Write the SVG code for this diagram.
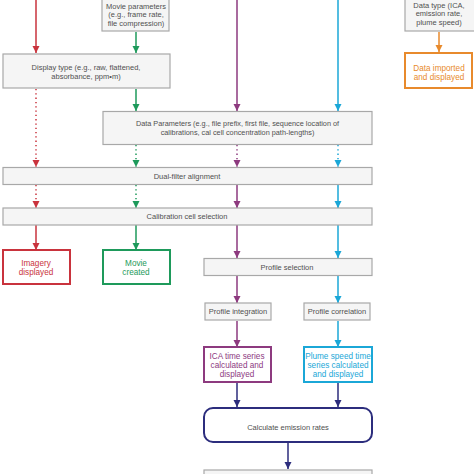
<svg xmlns="http://www.w3.org/2000/svg" width="474" height="474" viewBox="0 0 474 474">
<style>
text{font-family:"Liberation Sans",Arial,sans-serif;font-size:7.5px;fill:#505050;text-anchor:middle}
.k{font-size:8.2px}
.g{fill:#f5f5f5;stroke:#a8a8a8;stroke-width:1.2}
.c{fill:#fff;stroke-width:2}
.dot{stroke-dasharray:1.3 3;stroke-width:1.5}
line{stroke-width:1.5;fill:none}
.red{stroke:#c9333d}.grn{stroke:#1e9a5b}.pur{stroke:#8d3a7f}.cyn{stroke:#1ba7d7}.org{stroke:#e88a2c}.nav{stroke:#2c2d7d}
</style>
<defs>
<marker id="mr" viewBox="0 0 10 10" refX="10" refY="5" markerWidth="4.8" markerHeight="4.8" orient="auto" markerUnits="strokeWidth"><path d="M0,0L10,5L0,10z" fill="#c9333d"/></marker>
<marker id="mg" viewBox="0 0 10 10" refX="10" refY="5" markerWidth="4.8" markerHeight="4.8" orient="auto" markerUnits="strokeWidth"><path d="M0,0L10,5L0,10z" fill="#1e9a5b"/></marker>
<marker id="mp" viewBox="0 0 10 10" refX="10" refY="5" markerWidth="4.8" markerHeight="4.8" orient="auto" markerUnits="strokeWidth"><path d="M0,0L10,5L0,10z" fill="#8d3a7f"/></marker>
<marker id="mc" viewBox="0 0 10 10" refX="10" refY="5" markerWidth="4.8" markerHeight="4.8" orient="auto" markerUnits="strokeWidth"><path d="M0,0L10,5L0,10z" fill="#1ba7d7"/></marker>
<marker id="mo" viewBox="0 0 10 10" refX="10" refY="5" markerWidth="4.8" markerHeight="4.8" orient="auto" markerUnits="strokeWidth"><path d="M0,0L10,5L0,10z" fill="#e88a2c"/></marker>
<marker id="mn" viewBox="0 0 10 10" refX="10" refY="5" markerWidth="4.8" markerHeight="4.8" orient="auto" markerUnits="strokeWidth"><path d="M0,0L10,5L0,10z" fill="#2c2d7d"/></marker>
</defs>
<rect width="474" height="474" fill="#fff"/>
<g id="connectors">
<line class="red" x1="36" y1="0" x2="36" y2="53" marker-end="url(#mr)"/>
<line class="red dot" x1="36" y1="89" x2="36" y2="167" marker-end="url(#mr)"/>
<line class="red dot" x1="36" y1="185" x2="36" y2="208" marker-end="url(#mr)"/>
<line class="red" x1="36" y1="225" x2="36" y2="250" marker-end="url(#mr)"/>
<line class="grn" x1="136" y1="32" x2="136" y2="53" marker-end="url(#mg)"/>
<line class="grn" x1="136" y1="89" x2="136" y2="111" marker-end="url(#mg)"/>
<line class="grn dot" x1="136" y1="145" x2="136" y2="167" marker-end="url(#mg)"/>
<line class="grn dot" x1="136" y1="185" x2="136" y2="208" marker-end="url(#mg)"/>
<line class="grn" x1="136" y1="225" x2="136" y2="250" marker-end="url(#mg)"/>
<line class="pur" x1="237" y1="0" x2="237" y2="111" marker-end="url(#mp)"/>
<line class="pur dot" x1="237" y1="145" x2="237" y2="167" marker-end="url(#mp)"/>
<line class="pur" x1="237" y1="185" x2="237" y2="208" marker-end="url(#mp)"/>
<line class="pur" x1="237" y1="225" x2="237" y2="258" marker-end="url(#mp)"/>
<line class="pur" x1="237" y1="276" x2="237" y2="303" marker-end="url(#mp)"/>
<line class="pur" x1="237" y1="321" x2="237" y2="347" marker-end="url(#mp)"/>
<line class="cyn" x1="338" y1="0" x2="338" y2="111" marker-end="url(#mc)"/>
<line class="cyn dot" x1="338" y1="145" x2="338" y2="167" marker-end="url(#mc)"/>
<line class="cyn" x1="338" y1="185" x2="338" y2="208" marker-end="url(#mc)"/>
<line class="cyn" x1="338" y1="225" x2="338" y2="258" marker-end="url(#mc)"/>
<line class="cyn" x1="338" y1="276" x2="338" y2="303" marker-end="url(#mc)"/>
<line class="cyn" x1="338" y1="321" x2="338" y2="347" marker-end="url(#mc)"/>
<line class="org" x1="439" y1="32" x2="439" y2="52" marker-end="url(#mo)"/>
<line class="nav" x1="237" y1="383" x2="237" y2="407" marker-end="url(#mn)"/>
<line class="nav" x1="338" y1="383" x2="338" y2="407" marker-end="url(#mn)"/>
<line class="nav" x1="288" y1="443" x2="288" y2="469" marker-end="url(#mn)"/>
</g>
<g id="movie-params"><rect class="g" x="102" y="-2" width="67" height="33"/><text x="136" y="8.5">Movie parameters</text><text x="136" y="17">(e.g., frame rate,</text><text x="136" y="25.5">file compression)</text></g>
<g id="data-type"><rect class="g" x="405" y="-2" width="70" height="33"/><text x="439" y="7.5">Data type (ICA,</text><text x="439" y="16">emission rate,</text><text x="439" y="24.5">plume speed)</text></g>
<g id="display-type"><rect class="g" x="3" y="54" width="167" height="34"/><text x="86" y="69.5">Display type (e.g., raw, flattened,</text><text x="86" y="78.5">absorbance, ppm•m)</text></g>
<g id="data-imported"><rect class="c org" x="405" y="53" width="67" height="35"/><text class="k" x="439" y="70.5" style="fill:#e88a2c">Data imported</text><text class="k" x="439" y="80" style="fill:#e88a2c">and displayed</text></g>
<g id="data-params"><rect class="g" x="103" y="111.5" width="269" height="33"/><text x="237.5" y="125.5" style="font-size:7.3px">Data Parameters (e.g., file prefix, first file, sequence location of</text><text x="237.5" y="134.5" style="font-size:7.3px">calibrations, cal cell concentration path-lengths)</text></g>
<g id="dual-filter"><rect class="g" x="3" y="167.5" width="369" height="17"/><text x="187" y="178.5">Dual-filter alignment</text></g>
<g id="calibration"><rect class="g" x="3" y="208" width="369" height="17"/><text x="187" y="219">Calibration cell selection</text></g>
<g id="imagery"><rect class="c red" x="3" y="250" width="67" height="34"/><text class="k" x="36" y="265.5" style="fill:#c9333d">Imagery</text><text class="k" x="36" y="275" style="fill:#c9333d">displayed</text></g>
<g id="movie-created"><rect class="c grn" x="103" y="250" width="67" height="34"/><text class="k" x="136" y="265.5" style="fill:#1e9a5b">Movie</text><text class="k" x="136" y="275" style="fill:#1e9a5b">created</text></g>
<g id="profile-selection"><rect class="g" x="204" y="258.5" width="168" height="17"/><text x="287" y="269.5">Profile selection</text></g>
<g id="profile-integration"><rect class="g" x="205" y="303" width="66" height="17"/><text x="238" y="314">Profile integration</text></g>
<g id="profile-correlation"><rect class="g" x="304" y="303" width="66" height="17"/><text x="337" y="314">Profile correlation</text></g>
<g id="ica"><rect class="c pur" x="204" y="347" width="67" height="35"/><text class="k" x="237" y="358.5" style="fill:#8d3a7f">ICA time series</text><text class="k" x="237" y="367.5" style="fill:#8d3a7f">calculated and</text><text class="k" x="237" y="376.5" style="fill:#8d3a7f">displayed</text></g>
<g id="plume"><rect class="c cyn" x="304" y="347" width="68" height="35"/><text class="k" x="338" y="358.5" style="fill:#1ba7d7">Plume speed time</text><text class="k" x="338" y="367.5" style="fill:#1ba7d7">series calculated</text><text class="k" x="338" y="376.5" style="fill:#1ba7d7">and displayed</text></g>
<g id="emission"><rect class="c nav" x="204" y="408" width="168" height="34" rx="9"/><text x="288" y="430">Calculate emission rates</text></g>
<g id="bottom-box"><rect class="g" x="204" y="470" width="168" height="10"/></g>
</svg>
